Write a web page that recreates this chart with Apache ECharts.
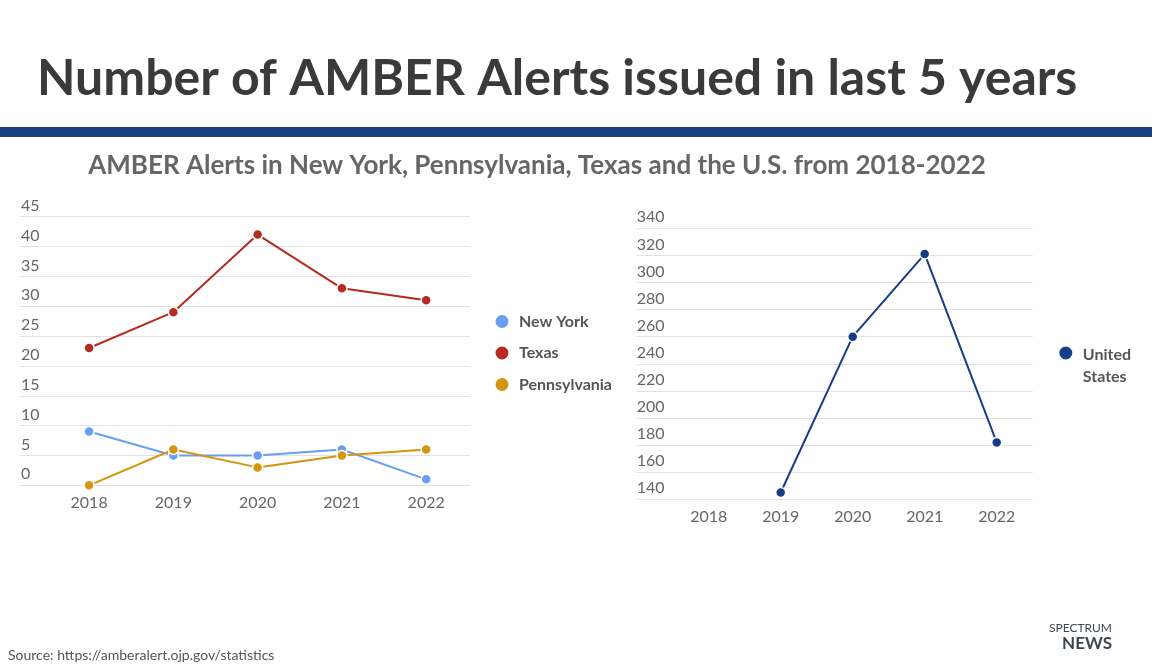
<!DOCTYPE html>
<html>
<head>
<meta charset="utf-8">
<script src="https://cdn.jsdelivr.net/npm/echarts@6/dist/echarts.min.js"></script>
<style>
  html, body { margin: 0; padding: 0; background: #ffffff; }
  #chart { width: 1152px; height: 666px; }
</style>
</head>
<body>
<div id="chart"></div>
<script>
// ---- Data ----
const years = [2018, 2019, 2020, 2021, 2022];
const newYork = [9, 5, 5, 6, 1];
const texas = [23, 29, 42, 33, 31];
const pennsylvania = [0, 6, 3, 5, 6];
const unitedStates = [null, 145, 260, 321, 182];
const leftTicks = { min: 0, max: 45, interval: 5 };
const rightTicks = { min: 140, max: 340, interval: 20 };

const FONT = 'Lato';
const pairs = (vals) => years.map((y, i) => [y, vals[i]]);

const chart = echarts.init(document.getElementById('chart'), null, { renderer: 'canvas' });

const axisLabelY = {
  inside: true,
  margin: 1,
  verticalAlign: 'bottom',
  lineHeight: 16,
  padding: [0, 0, 3, 0],
  color: '#666666',
  fontSize: 16,
  fontFamily: FONT
};
const splitLineY = { show: true, lineStyle: { color: '#e2e2e2', width: 1 } };

function xAxisFor(gridIndex, min, max) {
  return {
    type: 'value', gridIndex, min, max,
    axisLine: { show: false }, axisTick: { show: false }, splitLine: { show: false },
    axisLabel: {
      customValues: years, margin: 10, color: '#666666', fontSize: 16, fontFamily: FONT,
      formatter: (v) => String(Math.round(v))
    }
  };
}

function lineSeries(name, data, color, xi) {
  return {
    name, type: 'line', xAxisIndex: xi, yAxisIndex: xi,
    data: pairs(data), connectNulls: false,
    symbol: 'circle', symbolSize: 10,
    lineStyle: { color, width: 2 },
    itemStyle: { color, borderColor: '#ffffff', borderWidth: 1.5 },
    emphasis: { disabled: true },
    animation: false
  };
}

const legendText = { fontFamily: FONT, fontWeight: 'bold', fontSize: 16, color: '#555555' };

const option = {
  backgroundColor: '#ffffff',
  animation: false,
  title: [
    {
      text: 'Number of AMBER Alerts issued in last 5 years',
      left: 32, top: 49,
      textStyle: { fontFamily: FONT, fontWeight: 'bold', fontSize: 50, color: '#3a3a3c' }
    },
    {
      text: 'AMBER Alerts in New York, Pennsylvania, Texas and the U.S. from 2018-2022',
      left: 532, top: 148, textAlign: 'center',
      textStyle: { fontFamily: FONT, fontWeight: 'bold', fontSize: 26, color: '#666666' }
    }
  ],
  graphic: [
    { type: 'rect', left: 0, top: 127, shape: { width: 1152, height: 10 }, style: { fill: '#173f84' }, silent: true },
    { type: 'text', left: 8, top: 648, style: { text: 'Source: https://amberalert.ojp.gov/statistics', fontFamily: FONT, fontSize: 14, fill: '#555555' } },
    { type: 'text', right: 40, top: 622, style: { text: 'SPECTRUM', fontFamily: FONT, fontSize: 12, fill: '#3d4751' } },
    { type: 'text', right: 40, top: 635, style: { text: 'NEWS', fontFamily: FONT, fontSize: 17, fontWeight: 'bold', fill: '#3d4751' } }
  ],
  legend: [
    {
      data: ['New York', 'Texas', 'Pennsylvania'],
      orient: 'vertical', left: 488.5, top: 308,
      icon: 'circle', itemWidth: 24, itemHeight: 15, itemGap: 14.5,
      selectedMode: false,
      textStyle: legendText
    },
    {
      data: ['United States'],
      orient: 'vertical', left: 1052.3, top: 325,
      icon: 'circle', itemWidth: 24, itemHeight: 15,
      selectedMode: false,
      formatter: (n) => '{s| }\n{t|' + n.split(' ').join('}\n{t|') + '}',
      textStyle: Object.assign({}, legendText, {
        rich: {
          s: { fontSize: 2, lineHeight: 26 },
          t: Object.assign({}, legendText, { lineHeight: 22 })
        }
      })
    }
  ],
  grid: [
    { left: 20, right: 1152 - 470, top: 216.7, bottom: 666 - 485.3, containLabel: false },
    { left: 636.7, right: 1152 - 1032.7, top: 228.3, bottom: 666 - 499.3, containLabel: false }
  ],
  xAxis: [
    xAxisFor(0, 2017.18, 2022.52),
    xAxisFor(1, 2017.0, 2022.5)
  ],
  yAxis: [
    {
      type: 'value', gridIndex: 0, min: leftTicks.min, max: leftTicks.max, interval: leftTicks.interval,
      axisLine: { show: false }, axisTick: { show: false }, splitLine: splitLineY, axisLabel: axisLabelY
    },
    {
      type: 'value', gridIndex: 1, min: rightTicks.min, max: rightTicks.max, interval: rightTicks.interval,
      axisLine: { show: false }, axisTick: { show: false }, splitLine: splitLineY,
      axisLabel: Object.assign({}, axisLabelY, { margin: 0 })
    }
  ],
  series: [
    lineSeries('New York', newYork, '#6a9ef0', 0),
    lineSeries('Texas', texas, '#b52b1f', 0),
    lineSeries('Pennsylvania', pennsylvania, '#d4950f', 0),
    lineSeries('United States', unitedStates, '#163d85', 1)
  ]
};

chart.setOption(option);
</script>
</body>
</html>
